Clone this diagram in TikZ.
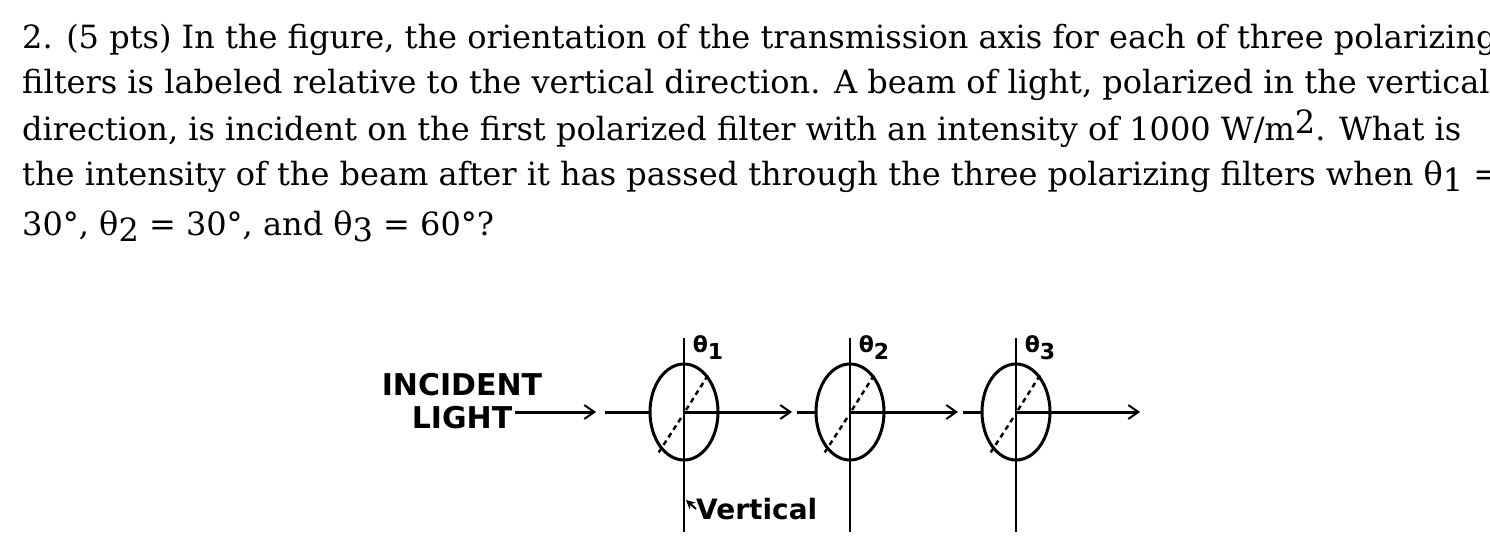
\documentclass[tikz,border=0pt]{standalone}
\usepackage{fontspec}
\setmainfont{DejaVu Serif}
\newfontfamily\ds{DejaVu Sans}
\usetikzlibrary{arrows.meta,shapes.geometric}
\begin{document}
\begin{tikzpicture}[x=1pt,y=-1pt,
  qline/.style={anchor=base west,inner sep=0pt,font=\fontsize{32}{36}\selectfont},
  filt/.style={draw,line width=3pt,ellipse,minimum width=68pt,minimum height=96pt,inner sep=0pt},
  beam/.style={line width=3pt},
  barrow/.style={line width=3pt,-{Straight Barb[length=10pt,width=14pt,line width=2pt]}},
  lab/.style={font=\ds\fontsize{30}{33}\selectfont\bfseries,align=center,inner sep=0pt}]
\useasboundingbox (0,0) rectangle (1490,546);
\node[qline] (l1) at (22,48) {2. (5 pts) In the figure, the orientation of the transmission axis for each of three polarizing};
\node[qline] (l2) at (22,93) {filters is labeled relative to the vertical direction. A beam of light, polarized in the vertical};
\node[qline] (l3) at (22,140) {direction, is incident on the first polarized filter with an intensity of 1000 W/m\raisebox{7pt}{2}. What is};
\node[qline] (l4) at (22,185) {the intensity of the beam after it has passed through the three polarizing filters when θ\raisebox{-6pt}{1} =};
\node[qline] (l5) at (22,235) {30°, θ\raisebox{-6pt}{2} = 30°, and θ\raisebox{-6pt}{3} = 60°?};
\node[lab] (inc) at (462,401) {INCIDENT\\LIGHT};
\foreach \i/\x in {1/684,2/850,3/1016}{
  \node[filt] (f\i) at (\x,412) {};
  \coordinate (t\i) at (\x,338);
  \coordinate (b\i) at (\x,532);
  \draw[line width=1.6pt] (t\i) -- (b\i);
  \draw[line width=2.4pt,dash pattern=on 5pt off 4pt] (\x+2,410) -- (\x+26,372);
  \draw[line width=2.4pt,dash pattern=on 5pt off 4pt] (\x-3,418) -- (\x-27,455);
  \node[font=\ds\fontsize{22}{24}\selectfont\bfseries] (th\i) at (\x+24,348) {θ\raisebox{-7pt}{\i}};
}
\coordinate (a0s) at (515,412); \coordinate (a0e) at (596,412);
\draw[barrow] (a0s) -- (a0e);
\draw[beam] (605,412) -- (f1.west);
\draw[barrow] (f1.center) -- (792,412);
\draw[beam] (797,412) -- (f2.west);
\draw[barrow] (f2.center) -- (958,412);
\draw[beam] (963,412) -- (f3.west);
\draw[barrow] (f3.center) -- (1140,412);
\node[lab,anchor=west,font=\ds\fontsize{28}{30}\selectfont\bfseries] (vert) at (696,509) {Vertical};
\draw[line width=2pt,-{Stealth[length=9pt,width=9pt]}] (vert.west) -- (686,500);
\end{tikzpicture}
\end{document}
